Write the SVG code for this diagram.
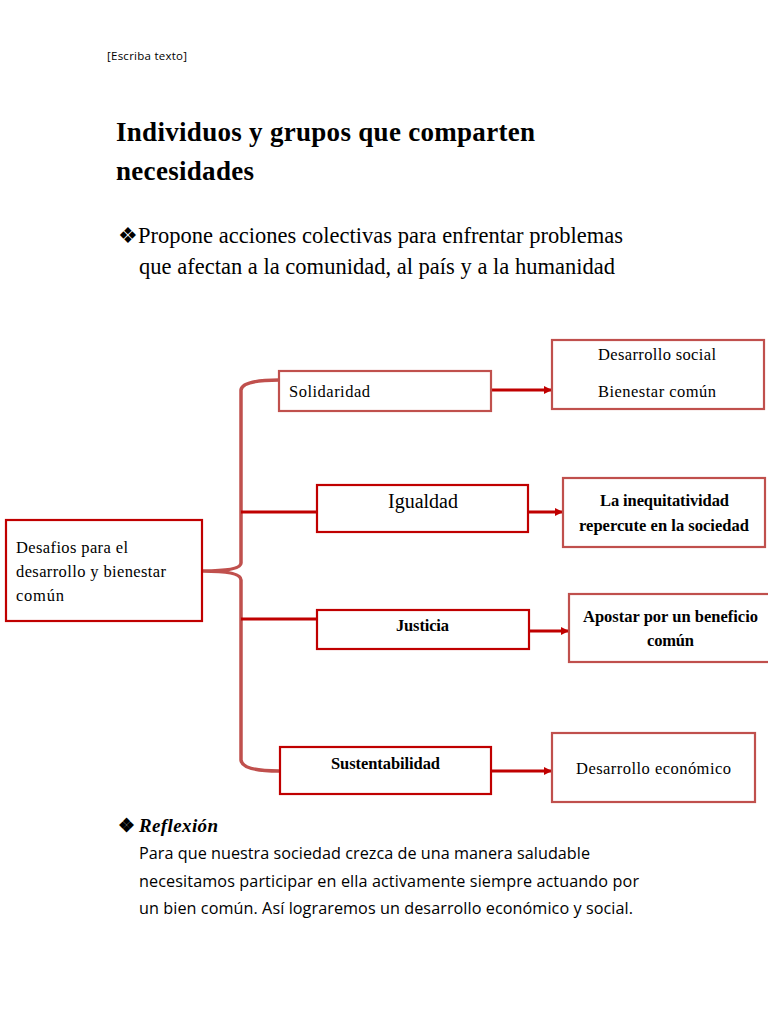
<svg xmlns="http://www.w3.org/2000/svg" width="768" height="1024" viewBox="0 0 768 1024">
<style>
.serif{font-family:"Liberation Serif","Times New Roman",serif;fill:#000}
.sans{font-family:"Open Sans","Noto Sans",sans-serif;fill:#000}
.dk{fill:#fff;stroke:#c00000;stroke-width:2.2}
.lt{fill:#fff;stroke:#c0504d;stroke-width:2.2}
.nt{font-family:"Liberation Serif","Times New Roman",serif;font-size:16.5px;fill:#000}
.b{font-weight:bold}
</style>
<defs>
<marker id="ah" markerWidth="8" markerHeight="8" refX="7" refY="4" orient="auto" markerUnits="userSpaceOnUse">
<path d="M0,0 L8,4 L0,8 Z" fill="#c00000"/>
</marker>
</defs>
<rect width="768" height="1024" fill="#fff"/>
<text class="sans" x="107" y="60" font-size="11.5" textLength="80">[Escriba texto]</text>
<text class="serif b" x="116" y="141" font-size="27" textLength="419">Individuos y grupos que comparten</text>
<text class="serif b" x="116" y="180" font-size="27" textLength="138">necesidades</text>
<text class="serif" x="118" y="243" font-size="22">❖</text>
<text class="serif" x="138" y="243" font-size="22.5" textLength="485">Propone acciones colectivas para enfrentar problemas</text>
<text class="serif" x="139" y="274" font-size="22.5" textLength="476">que afectan a la comunidad, al país y a la humanidad</text>

<g id="connectors" fill="none">
<path d="M279,380 Q242,380 241,390 L241,563 Q241,571 203,571 Q241,571 241,580 L241,760 Q242,771 279,771" stroke="#c0504d" stroke-width="3.5"/>
<line x1="241" y1="512" x2="317" y2="512" stroke="#c00000" stroke-width="3"/>
<line x1="241" y1="619" x2="317" y2="619" stroke="#c00000" stroke-width="3"/>
<line x1="491" y1="390" x2="551" y2="390" stroke="#c00000" stroke-width="3" marker-end="url(#ah)"/>
<line x1="528" y1="512" x2="562" y2="512" stroke="#c00000" stroke-width="3" marker-end="url(#ah)"/>
<line x1="529" y1="631" x2="568" y2="631" stroke="#c00000" stroke-width="3" marker-end="url(#ah)"/>
<line x1="491" y1="771" x2="551" y2="771" stroke="#c00000" stroke-width="3" marker-end="url(#ah)"/>
</g>

<g id="desafios">
<rect class="dk" x="6" y="520" width="196" height="101"/>
<text class="nt" x="16" y="553" textLength="112">Desafios para el</text>
<text class="nt" x="16" y="577" textLength="150">desarrollo y bienestar</text>
<text class="nt" x="16" y="601" textLength="48">común</text>
</g>
<g id="solidaridad">
<rect class="lt" x="279" y="371" width="212" height="40"/>
<text class="nt" x="289" y="397" textLength="81">Solidaridad</text>
</g>
<g id="igualdad">
<rect class="dk" x="317" y="485" width="211" height="47"/>
<text class="nt" x="388" y="508" style="font-size:20px" textLength="70">Igualdad</text>
</g>
<g id="justicia">
<rect class="dk" x="317" y="610" width="212" height="39"/>
<text class="nt b" x="396" y="631" textLength="53">Justicia</text>
</g>
<g id="sustentabilidad">
<rect class="dk" x="280" y="747" width="211" height="47"/>
<text class="nt b" x="331" y="769" textLength="109">Sustentabilidad</text>
</g>
<g id="desarrollo-social">
<rect class="lt" x="552" y="340" width="212" height="69"/>
<text class="nt" x="598" y="360" textLength="118">Desarrollo social</text>
<text class="nt" x="598" y="397" textLength="118">Bienestar común</text>
</g>
<g id="inequitatividad">
<rect class="lt" x="563" y="478" width="202" height="69"/>
<text class="nt b" x="600" y="506" textLength="129">La inequitatividad</text>
<text class="nt b" x="579" y="531" textLength="170">repercute en la sociedad</text>
</g>
<g id="apostar">
<rect class="lt" x="569" y="594" width="201" height="68"/>
<text class="nt b" x="583" y="622" textLength="175">Apostar por un beneficio</text>
<text class="nt b" x="647" y="646" textLength="47">común</text>
</g>
<g id="desarrollo-economico">
<rect class="lt" x="552" y="733" width="203" height="69"/>
<text class="nt" x="576" y="774" textLength="155">Desarrollo económico</text>
</g>

<text class="serif b" x="118" y="832" font-size="19">❖</text>
<text class="serif b" x="139" y="832" font-size="19" font-style="italic" textLength="79">Reflexión</text>
<text class="sans" x="139" y="859" font-size="16.2" textLength="451">Para que nuestra sociedad crezca de una manera saludable</text>
<text class="sans" x="139" y="887" font-size="16.2" textLength="500">necesitamos participar en ella activamente siempre actuando por</text>
<text class="sans" x="139" y="914" font-size="16.2" textLength="494">un bien común. Así lograremos un desarrollo económico y social.</text>
</svg>
